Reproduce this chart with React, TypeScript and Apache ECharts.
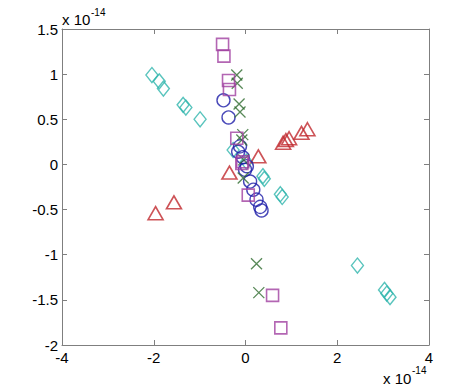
import React, { useEffect, useRef } from "react";
import * as echarts from "echarts";

const xTicks = [-4, -2, 0, 2, 4];
const yTicks = [-2, -1.5, -1, -0.5, 0, 0.5, 1, 1.5];

const diamonds: number[][] = [
  [-2.04, 0.99], [-1.88, 0.92], [-1.79, 0.84], [-1.36, 0.66], [-1.30, 0.63],
  [-0.99, 0.50], [-0.27, 0.16], [0.02, 0.03], [0.38, -0.13], [0.41, -0.16],
  [0.76, -0.33], [0.80, -0.36], [2.44, -1.12], [3.03, -1.39], [3.08, -1.43], [3.15, -1.47],
];
const triangles: number[][] = [
  [-1.96, -0.54], [-1.56, -0.42], [-0.35, -0.09], [0.28, 0.09], [0.82, 0.24],
  [0.88, 0.27], [0.95, 0.29], [1.22, 0.35], [1.35, 0.39],
];
const circles: number[][] = [
  [-0.48, 0.71], [-0.37, 0.52], [-0.12, 0.20], [-0.16, 0.14], [-0.06, 0.08],
  [-0.01, -0.06], [0.03, -0.02], [0.10, -0.19], [0.17, -0.28], [0.24, -0.39],
  [0.32, -0.47], [0.35, -0.51],
];
const crosses: number[][] = [
  [-0.19, 0.99], [-0.18, 0.90], [-0.14, 0.67], [-0.12, 0.58], [-0.06, 0.33],
  [-0.08, 0.27], [-0.04, 0.05], [-0.05, -0.15], [0.24, -1.10], [0.29, -1.42],
];
const squares: number[][] = [
  [-0.50, 1.33], [-0.47, 1.20], [-0.37, 0.93], [-0.35, 0.83], [-0.19, 0.29],
  [-0.08, 0.01], [-0.06, 0.03], [0.06, -0.34], [0.59, -1.45], [0.77, -1.81],
];

const FONT = "'Liberation Sans', Arial, sans-serif";

export default function App() {
  const ref = useRef<HTMLDivElement>(null);
  useEffect(() => {
    if (!ref.current) return;
    const chart = echarts.init(ref.current, undefined, { renderer: "svg" });
    const axisCommon = {
      type: "value" as const,
      axisLine: { show: true, onZero: false, lineStyle: { color: "#7f7f7f", width: 1 } },
      axisTick: { show: true, inside: true, length: 5, lineStyle: { color: "#7f7f7f" } },
      splitLine: { show: false },
    };
    const hollow = (color: string, w = 1.4) => ({ color: "rgba(0,0,0,0)", borderColor: color, borderWidth: w });
    chart.setOption({
      animation: false,
      backgroundColor: "#ffffff",
      grid: { left: 62, right: 45, top: 29, bottom: 43 },
      xAxis: [
        {
          ...axisCommon, min: xTicks[0], max: xTicks[xTicks.length - 1], interval: 2, position: "bottom",
          axisLabel: { color: "#000", fontFamily: FONT, fontSize: 15, margin: 5 },
        },
        {
          ...axisCommon, min: xTicks[0], max: xTicks[xTicks.length - 1], interval: 2, position: "top",
          axisLabel: { show: false },
        },
      ],
      yAxis: [
        {
          ...axisCommon, min: yTicks[0], max: yTicks[yTicks.length - 1], interval: 0.5, position: "left",
          axisLabel: { color: "#000", fontFamily: FONT, fontSize: 15, margin: 4 },
        },
        {
          ...axisCommon, min: yTicks[0], max: yTicks[yTicks.length - 1], interval: 0.5, position: "right",
          axisLabel: { show: false },
        },
      ],
      series: [
        { type: "scatter", data: diamonds, symbol: "diamond", symbolSize: [12, 15], itemStyle: hollow("#30b5ad") },
        { type: "scatter", data: triangles, symbol: "triangle", symbolSize: [15, 13], itemStyle: hollow("#c0282d", 1.6) },
        { type: "scatter", data: circles, symbol: "circle", symbolSize: 13, itemStyle: hollow("#1c1ca8") },
        { type: "scatter", data: crosses, symbol: "path://M0,0L10,10M10,0L0,10", symbolSize: 11, itemStyle: hollow("#2e6b2e", 1.3) },
        { type: "scatter", data: squares, symbol: "rect", symbolSize: 12, itemStyle: hollow("#a040a0", 1.6) },
      ],
      graphic: [
        { type: "text", left: 62, top: 12, style: { text: "x 10", fontFamily: FONT, fontSize: 15, fill: "#000" } },
        { type: "text", left: 91, top: 7, style: { text: "-14", fontFamily: FONT, fontSize: 10, fill: "#000" } },
        { type: "text", left: 383, top: 371, style: { text: "x 10", fontFamily: FONT, fontSize: 15, fill: "#000" } },
        { type: "text", left: 412, top: 365, style: { text: "-14", fontFamily: FONT, fontSize: 10, fill: "#000" } },
      ],
    });
    return () => chart.dispose();
  }, []);
  return <div ref={ref} style={{ width: 474, height: 388, position: "absolute", left: 0, top: 0 }} />;
}
